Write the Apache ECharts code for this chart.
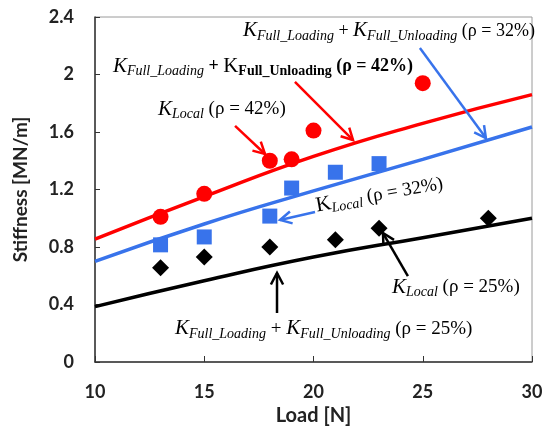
<!DOCTYPE html>
<html><head><meta charset="utf-8">
<script src="https://cdn.jsdelivr.net/npm/echarts@6/dist/echarts.min.js"></script>
<style>html,body{margin:0;padding:0;background:#fff}#c{width:550px;height:435px}</style>
</head><body><div id="c"></div>
<script>
// ---- data ----
const redPointsX   = [13, 15, 18, 19, 20, 25];
const redPointsY   = [1.01, 1.17, 1.40, 1.41, 1.61, 1.94];
const bluePointsX  = [13, 15, 18, 19, 21, 23];
const bluePointsY  = [0.815, 0.87, 1.015, 1.21, 1.32, 1.38];
const blackPointsX = [13, 15, 18, 21, 23, 28];
const blackPointsY = [0.655, 0.73, 0.80, 0.85, 0.93, 1.00];
const fitX      = [10, 15, 20, 25, 30];
const redFitY   = [0.855, 1.15, 1.43, 1.66, 1.86];
const blueFitY  = [0.70, 0.96, 1.19, 1.41, 1.635];
const blackFitY = [0.385, 0.565, 0.73, 0.865, 1.0];
const xAxisMin = 10, xAxisMax = 30, xAxisStep = 5;
const yAxisMin = 0, yAxisMax = 2.4, yAxisStep = 0.4;

const RED = '#ff0000', BLUE = '#3873eb', BLACK = '#000000';
const pairs = (xs, ys) => xs.map((x, i) => [x, ys[i]]);

const option = {
  animation: false,
  backgroundColor: '#fff',
  grid: { left: 95, right: 18, top: 17, bottom: 73, show: true, borderColor: '#9a9a9a', borderWidth: 1 },
  xAxis: {
    type: 'value', min: xAxisMin, max: xAxisMax, interval: xAxisStep,
    name: 'Load [N]', nameLocation: 'middle', nameGap: 44,
    nameTextStyle: { fontFamily: 'Lato', fontWeight: 'bold', fontSize: 20, color: '#222' },
    axisLine: { show: true, lineStyle: { color: '#333', width: 1.5 } },
    axisTick: { show: true, inside: true, length: 6, lineStyle: { color: '#333', width: 1 } },
    axisLabel: { margin: 21, fontFamily: 'Lato', fontWeight: 'bold', fontSize: 18, color: '#222' },
    splitLine: { show: false }
  },
  yAxis: {
    type: 'value', min: yAxisMin, max: yAxisMax, interval: yAxisStep,
    name: 'Stiffness [MN/m]', nameLocation: 'middle', nameGap: 65,
    nameTextStyle: { fontFamily: 'Lato', fontWeight: 'bold', fontSize: 19, color: '#222' },
    axisLine: { show: true, lineStyle: { color: '#333', width: 1.5 } },
    axisTick: { show: true, inside: true, length: 5, lineStyle: { color: '#333', width: 1 } },
    axisLabel: { margin: 21, fontFamily: 'Lato', fontWeight: 'bold', fontSize: 18, color: '#222' },
    splitLine: { show: false }
  },
  series: [
    { type: 'line', data: pairs(fitX, redFitY), smooth: true, showSymbol: false, lineStyle: { color: RED, width: 3.5 }, z: 2 },
    { type: 'line', data: pairs(fitX, blueFitY), smooth: true, showSymbol: false, lineStyle: { color: BLUE, width: 3.5 }, z: 2 },
    { type: 'line', data: pairs(fitX, blackFitY), smooth: true, showSymbol: false, lineStyle: { color: BLACK, width: 3.5 }, z: 2 },
    { type: 'scatter', data: pairs(redPointsX, redPointsY), symbol: 'circle', symbolSize: 16, itemStyle: { color: RED, opacity: 1 }, z: 3 },
    { type: 'scatter', data: pairs(bluePointsX, bluePointsY), symbol: 'rect', symbolSize: 15, itemStyle: { color: BLUE, opacity: 1 }, z: 3 },
    { type: 'scatter', data: pairs(blackPointsX, blackPointsY), symbol: 'diamond', symbolSize: 17, itemStyle: { color: BLACK, opacity: 1 }, z: 3 }
  ]
};

const chart = echarts.init(document.getElementById('c'));
chart.setOption(option);

// ---- annotations (anchored in data coordinates) ----
function richStyles(color, pSize) {
  const f = 'Liberation Serif';
  return {
    K:  { fontFamily: f, fontSize: 21, fontStyle: 'italic', color: color, lineHeight: 24 },
    Kr: { fontFamily: f, fontSize: 21, color: color, lineHeight: 24 },
    s:  { fontFamily: f, fontSize: 14, fontStyle: 'italic', color: color, lineHeight: 10, verticalAlign: 'bottom' },
    sb: { fontFamily: f, fontSize: 14, fontWeight: 'bold', color: color, lineHeight: 10, verticalAlign: 'bottom' },
    p:  { fontFamily: f, fontSize: pSize, color: color, lineHeight: 24 },
    pb: { fontFamily: f, fontSize: pSize, fontWeight: 'bold', color: color, lineHeight: 24 }
  };
}
const labels = [
  { at: [10.82, 2.017], color: RED, rot: 0, pSize: 18,
    text: '{K|K}{s|Full_Loading}{pb| + }{Kr|K}{sb|Full_Unloading}{pb| (ρ = 42%)}' },
  { at: [12.88, 1.718], color: RED, rot: 0, pSize: 19,
    text: '{K|K}{s|Local}{p| (ρ = 42%)}' },
  { at: [16.77, 2.261], color: BLUE, rot: 0, pSize: 18,
    text: '{K|K}{s|Full_Loading}{p| + }{K|K}{s|Full_Unloading}{p| (ρ = 32%)}' },
  { at: [20.16, 1.043], color: BLUE, rot: 10, pSize: 19,
    text: '{Kr|K}{s|Local}{p| (ρ = 32%)}' },
  { at: [23.59, 0.48], color: BLACK, rot: 0, pSize: 19,
    text: '{K|K}{s|Local}{p| (ρ = 25%)}' },
  { at: [13.66, 0.188], color: BLACK, rot: 0, pSize: 19,
    text: '{K|K}{s|Full_Loading}{p| + }{K|K}{s|Full_Unloading}{p| (ρ = 25%)}' }
];
const arrows = [
  { from: [19.15, 1.948], to: [21.81, 1.544], color: RED },
  { from: [16.41, 1.642], to: [17.78, 1.447], color: RED },
  { from: [24.87, 2.184], to: [27.89, 1.558], color: BLUE },
  { from: [20.07, 1.043], to: [18.47, 0.988], color: BLUE },
  { from: [24.32, 0.598], to: [23.18, 0.897], color: BLACK },
  { from: [18.33, 0.341], to: [18.33, 0.619], color: BLACK }
];

const px = p => chart.convertToPixel({ gridIndex: 0 }, p);
const graphics = [];
labels.forEach(l => {
  const p = px(l.at);
  graphics.push({
    type: 'text', x: p[0], y: p[1], rotation: l.rot * Math.PI / 180, z: 10,
    style: { text: l.text, rich: richStyles(l.color, l.pSize), x: 0, y: -18, align: 'left', verticalAlign: 'top' }
  });
});
arrows.forEach(a => {
  const s = px(a.from), t = px(a.to);
  const dx = t[0] - s[0], dy = t[1] - s[1], len = Math.hypot(dx, dy);
  const ux = dx / len, uy = dy / len, hl = 13, ang = 28 * Math.PI / 180;
  const h1 = [t[0] - hl * (ux * Math.cos(ang) - uy * Math.sin(ang)), t[1] - hl * (uy * Math.cos(ang) + ux * Math.sin(ang))];
  const h2 = [t[0] - hl * (ux * Math.cos(ang) + uy * Math.sin(ang)), t[1] - hl * (uy * Math.cos(ang) - ux * Math.sin(ang))];
  graphics.push({ type: 'polyline', z: 10, shape: { points: [s, t] }, style: { stroke: a.color, lineWidth: 2.5, fill: null } });
  graphics.push({ type: 'polyline', z: 10, shape: { points: [h1, t, h2] }, style: { stroke: a.color, lineWidth: 2.5, fill: null, lineJoin: 'miter' } });
});
chart.setOption({ graphic: graphics });
</script>
</body></html>
